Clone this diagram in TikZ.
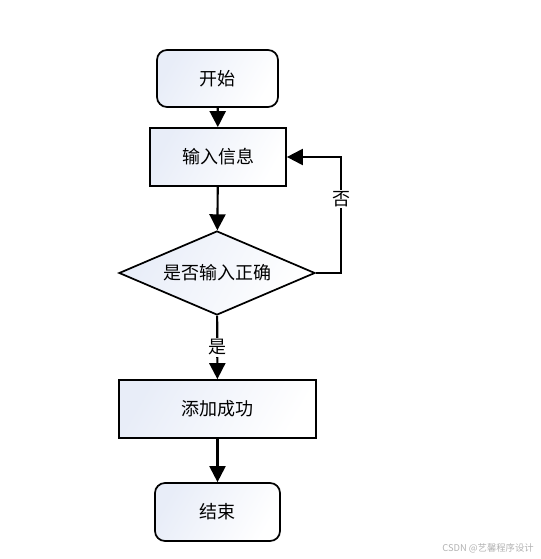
\documentclass[tikz,border=0pt]{standalone}
\usepackage{fontspec}
\setmainfont{Noto Sans CJK SC}
\usetikzlibrary{shapes.geometric,arrows.meta}

\tikzset{
  fyll/.style={left color={rgb,255:red,232;green,237;blue,248}, right color=white, shading angle=60},
  start/.style={rectangle, rounded corners=7.5pt, draw, fyll, line width=1.3pt, inner sep=0pt},
  boks/.style={rectangle, draw, fyll, line width=1.3pt, inner sep=0pt},
  valg/.style={diamond, draw, fyll, line width=1.3pt, inner sep=0pt, aspect=2.3, minimum width=147pt, minimum height=63pt},
  pil/.style={line width=1.6pt, -{Triangle[length=12pt, width=12pt]}}
}

\begin{document}
\begin{tikzpicture}[x=0.75pt, y=-0.75pt, font=\fontsize{13.5pt}{15pt}\selectfont]
        \useasboundingbox (0,0) rectangle (541,559);

        % Noder
        \node[start, minimum width=90.75pt, minimum height=42.75pt] (start) at (217.5,78.5) {开始};
        \node[boks, minimum width=102pt, minimum height=43.5pt] (inn) at (218,157) {输入信息};
        \node[valg] (sjekk) at (217,273) {是否输入正确};
        \node[boks, minimum width=147.75pt, minimum height=43.5pt] (legg) at (217.5,409) {添加成功};
        \node[start, minimum width=93.75pt, minimum height=43.5pt] (slutt) at (217.5,512) {结束};
        \coordinate (hjorne) at (341,273);

        % Kanter
        \draw[pil] (start) to (inn);
        \draw[pil] (inn) to (sjekk);
        \draw[pil] (sjekk) to node[midway, fill=white, inner sep=1pt] {是} (legg);
        \draw[pil] (legg) to (slutt);
        \draw[pil] (sjekk.east) -- (hjorne) |- node[pos=0.32, fill=white, inner sep=1pt] {否} (inn.east);

        % Vannmerke
        \node[text=gray!60, font=\fontsize{7pt}{8pt}\selectfont] (merke) at (488,548) {CSDN @艺馨程序设计};
    \end{tikzpicture}
\end{document}
